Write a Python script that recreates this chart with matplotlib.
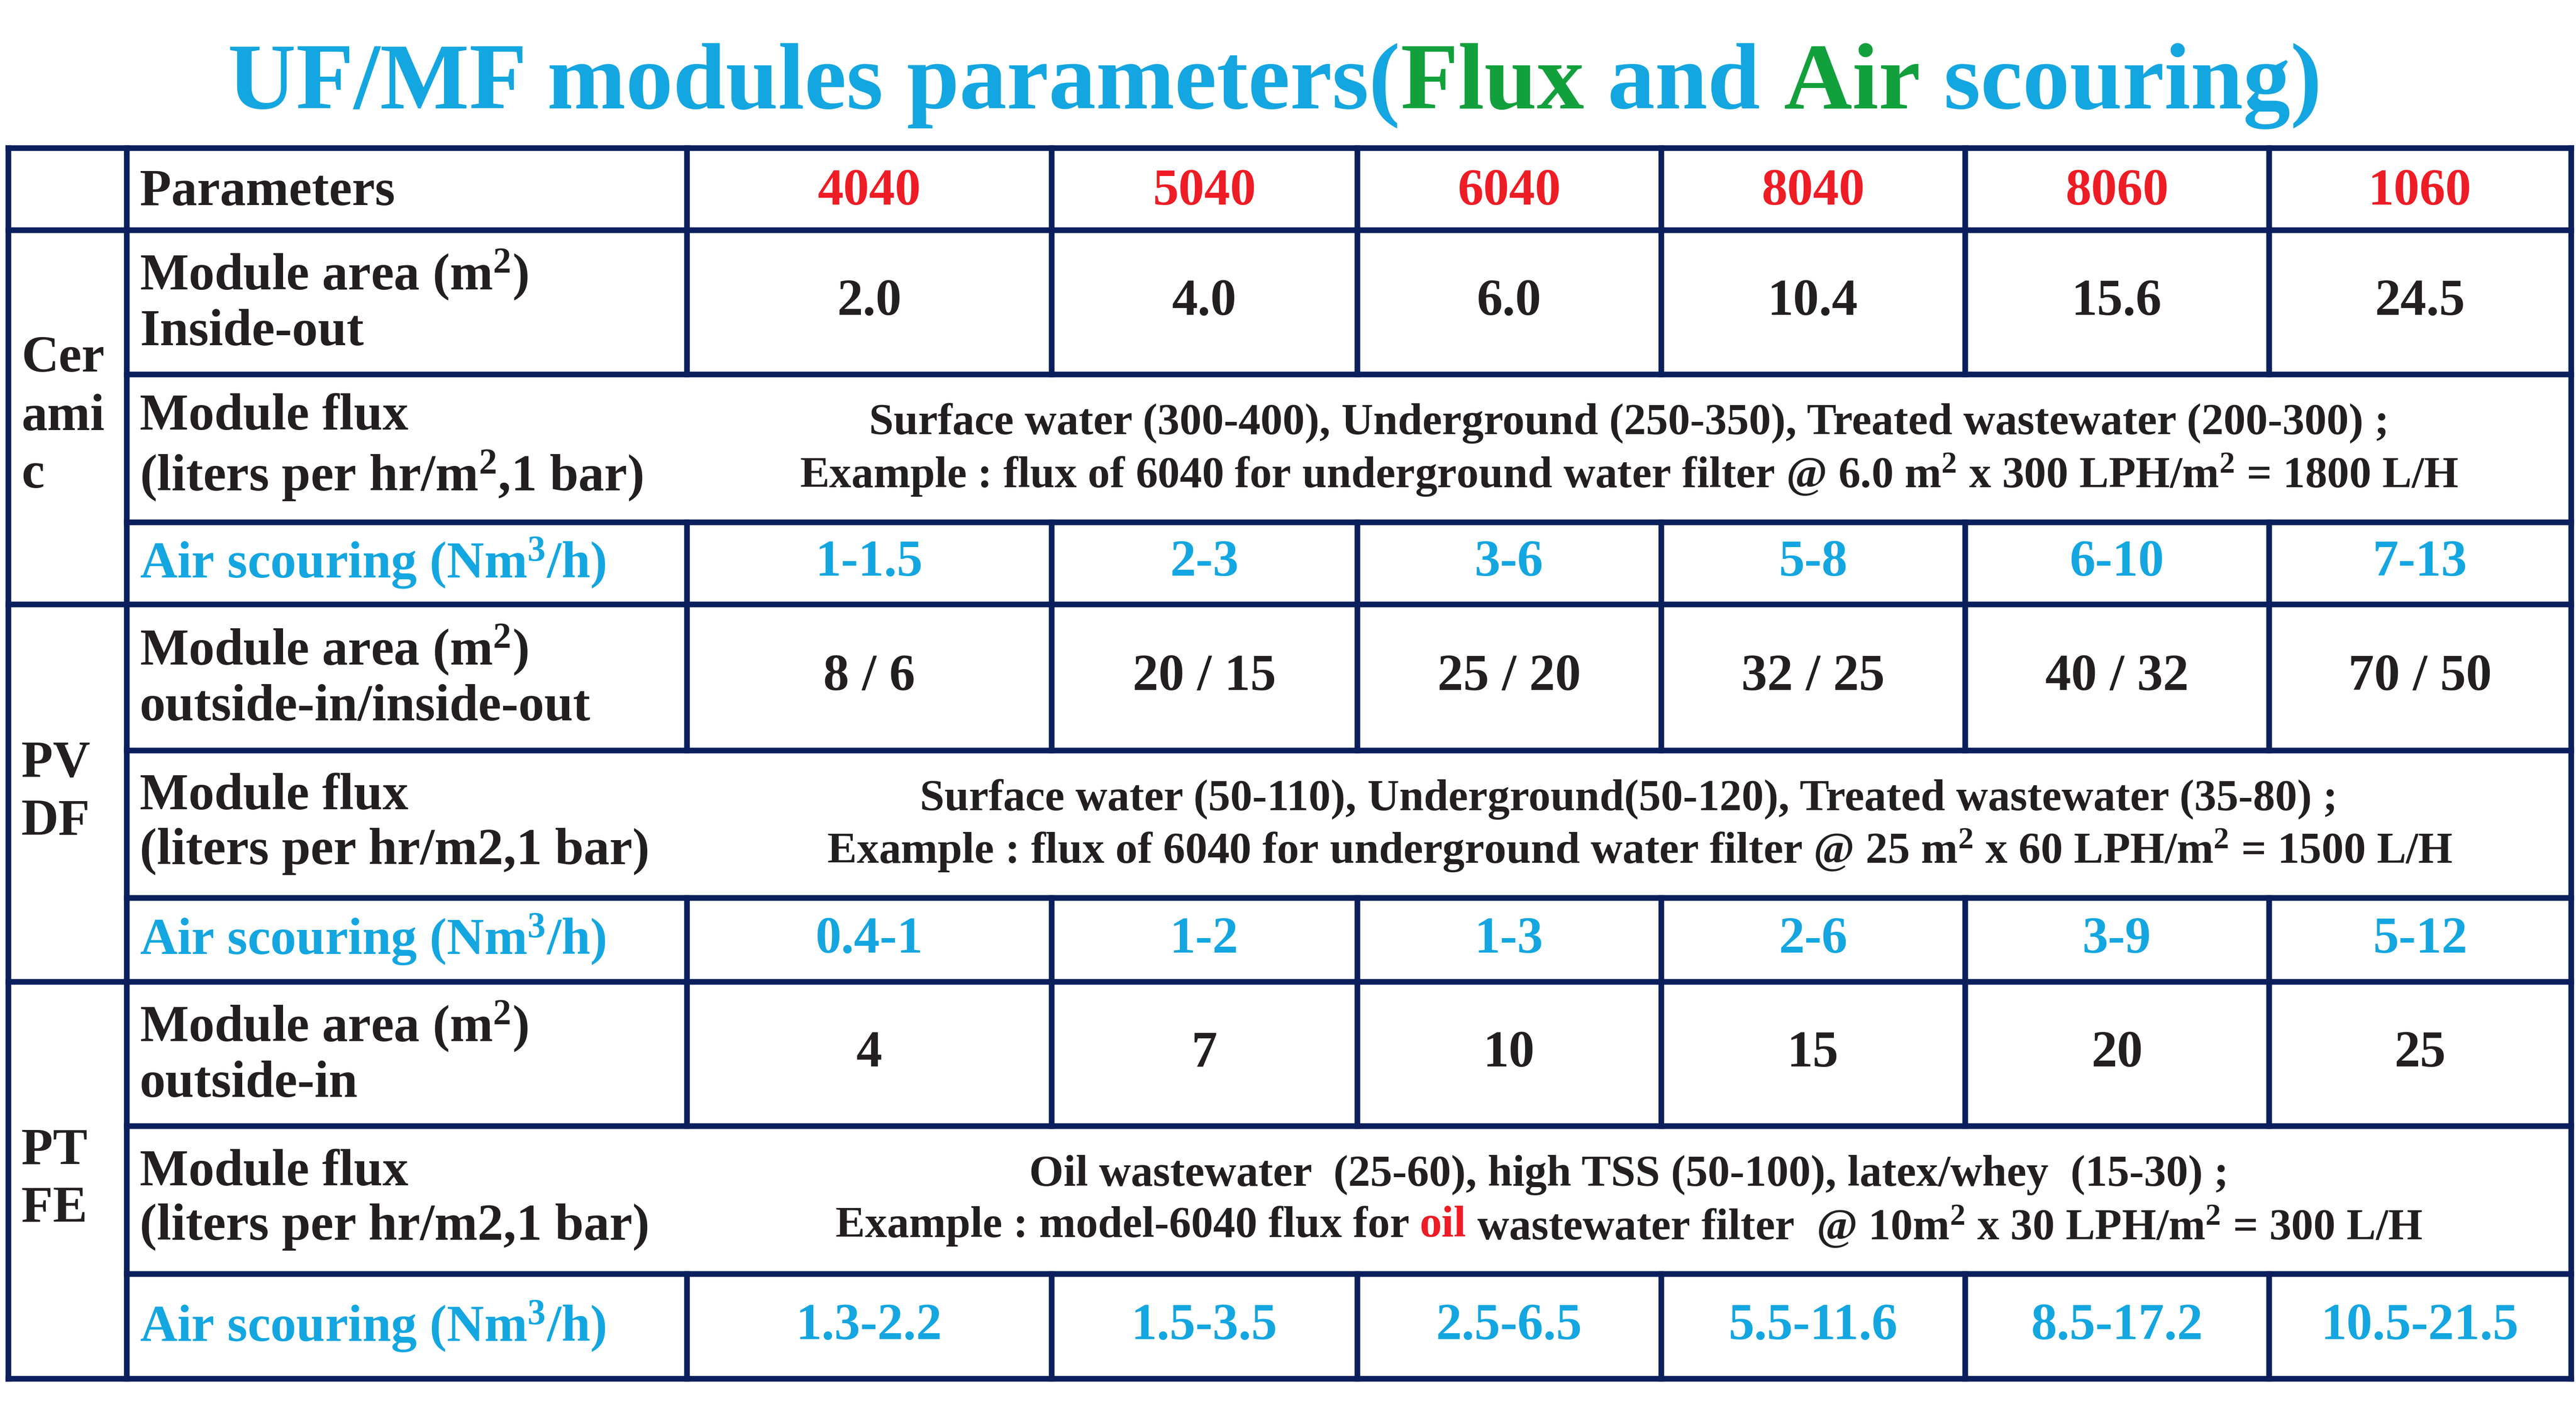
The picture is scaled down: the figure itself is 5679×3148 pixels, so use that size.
import matplotlib
matplotlib.use("Agg")
import matplotlib.pyplot as plt

plt.rcParams["font.family"] = "Liberation Serif"
plt.rcParams["font.weight"] = "bold"
plt.rcParams["mathtext.fontset"] = "custom"
plt.rcParams["mathtext.rm"] = "Liberation Serif:bold"
plt.rcParams["mathtext.it"] = "Liberation Serif:bold"
plt.rcParams["mathtext.bf"] = "Liberation Serif:bold"

NAVY = "#0b1f5c"
BLUE = "#14a6e0"
RED = "#ee1c25"
GREEN = "#12a03c"
BLACK = "#231f20"

models = ["4040", "5040", "6040", "8040", "8060", "1060"]
groups = ["Cer\nami\nc", "PV\nDF", "PT\nFE"]
area_labels = ["Module area (m$^{2}$)\nInside-out",
               "Module area (m$^{2}$)\noutside-in/inside-out",
               "Module area (m$^{2}$)\noutside-in"]
flux_labels = ["Module flux\n(liters per hr/m$^{2}$,1 bar)",
               "Module flux\n(liters per hr/m2,1 bar)",
               "Module flux\n(liters per hr/m2,1 bar)"]
area_values = [["2.0", "4.0", "6.0", "10.4", "15.6", "24.5"],
               ["8 / 6", "20 / 15", "25 / 20", "32 / 25", "40 / 32", "70 / 50"],
               ["4", "7", "10", "15", "20", "25"]]
flux_text = [
    [[("Surface water (300-400), Underground (250-350), Treated wastewater (200-300) ;", BLACK)],
     [("Example : flux of 6040 for underground water filter @ 6.0 m$^{2}$ x 300 LPH/m$^{2}$ = 1800 L/H", BLACK)]],
    [[("Surface water (50-110), Underground(50-120), Treated wastewater (35-80) ;", BLACK)],
     [("  Example : flux of 6040 for underground water filter @ 25 m$^{2}$ x 60 LPH/m$^{2}$ = 1500 L/H", BLACK)]],
    [[("Oil wastewater  (25-60), high TSS (50-100), latex/whey  (15-30) ;", BLACK)],
     [("Example : model-6040 flux for ", BLACK), ("oil", RED),
      (" wastewater filter  @ 10m$^{2}$ x 30 LPH/m$^{2}$ = 300 L/H", BLACK)]],
]
air_values = [["1-1.5", "2-3", "3-6", "5-8", "6-10", "7-13"],
              ["0.4-1", "1-2", "1-3", "2-6", "3-9", "5-12"],
              ["1.3-2.2", "1.5-3.5", "2.5-6.5", "5.5-11.6", "8.5-17.2", "10.5-21.5"]]

# layout in reference pixel units (1568 x 870 view)
W, H = 1568, 870
cx = [5, 77, 418, 640, 826, 1011, 1196, 1381, 1565]
ry = [90, 140, 228, 318, 368, 457, 547, 598, 686, 776, 840]
FS = 82
FS_FLUX = 70
LW = 9

fig = plt.figure(figsize=(56.79, 31.48), dpi=100)
ax = fig.add_axes([0, 0, 1, 1])
ax.set_xlim(0, W)
ax.set_ylim(H, 0)
ax.axis("off")
fig.canvas.draw()
renderer = fig.canvas.get_renderer()


def pieces(x, y, parts, size, va="center"):
    widths = []
    objs = []
    for s, c in parts:
        t = ax.text(0, y, s, fontsize=size, color=c, va=va, ha="left")
        bb = t.get_window_extent(renderer)
        widths.append(bb.width * W / fig.bbox.width)
        objs.append(t)
    start = x - sum(widths) / 2
    for t, w in zip(objs, widths):
        t.set_x(start)
        start += w


pieces(W / 2 - 8, 66, [("UF/MF modules parameters(", BLUE), ("Flux", GREEN),
                       (" and ", BLUE), ("Air", GREEN), (" scouring)", BLUE)], 150,
       va="baseline")

# grid lines
for k, y in enumerate(ry):
    x0 = cx[0] if k in (0, 1, 4, 7, 10) else cx[1]
    ax.plot([x0, cx[-1]], [y, y], color=NAVY, lw=LW, solid_capstyle="projecting")
for i, x in enumerate(cx):
    if i in (0, 1, 8):
        ax.plot([x, x], [ry[0], ry[-1]], color=NAVY, lw=LW)
    else:
        for k in range(10):
            if k in (2, 5, 8):
                continue
            ax.plot([x, x], [ry[k], ry[k + 1]], color=NAVY, lw=LW)

ax.text(cx[1] + 8, (ry[0] + ry[1]) / 2 + 2, "Parameters", fontsize=FS, color=BLACK, va="center")
for j, m in enumerate(models):
    ax.text((cx[j + 2] + cx[j + 3]) / 2, (ry[0] + ry[1]) / 2 + 2, m, fontsize=FS,
            color=RED, ha="center", va="center")

for g in range(3):
    r0 = 1 + 3 * g
    ax.text(cx[0] + 8, (ry[r0] + ry[r0 + 3]) / 2, groups[g], fontsize=FS, color=BLACK,
            va="center", linespacing=1.3)
    # area row
    ym = (ry[r0] + ry[r0 + 1]) / 2
    ax.text(cx[1] + 8, ym, area_labels[g], fontsize=FS, color=BLACK, va="center", linespacing=1.2)
    for j, v in enumerate(area_values[g]):
        ax.text((cx[j + 2] + cx[j + 3]) / 2, ym, v, fontsize=FS, color=BLACK, ha="center", va="center")
    # flux row
    ym = (ry[r0 + 1] + ry[r0 + 2]) / 2
    ax.text(cx[1] + 8, ym, flux_labels[g], fontsize=FS, color=BLACK, va="center", linespacing=1.2)
    xc = (cx[2] + cx[8]) / 2
    pieces(xc, ym - 15, flux_text[g][0], FS_FLUX)
    pieces(xc, ym + 16, flux_text[g][1], FS_FLUX)
    # air row
    ym = (ry[r0 + 2] + ry[r0 + 3]) / 2
    ax.text(cx[1] + 8, ym, "Air scouring (Nm$^{3}$/h)", fontsize=FS, color=BLUE, va="center")
    for j, v in enumerate(air_values[g]):
        ax.text((cx[j + 2] + cx[j + 3]) / 2, ym, v, fontsize=FS, color=BLUE, ha="center", va="center")

fig.savefig("out.png", dpi=100, facecolor="white")
